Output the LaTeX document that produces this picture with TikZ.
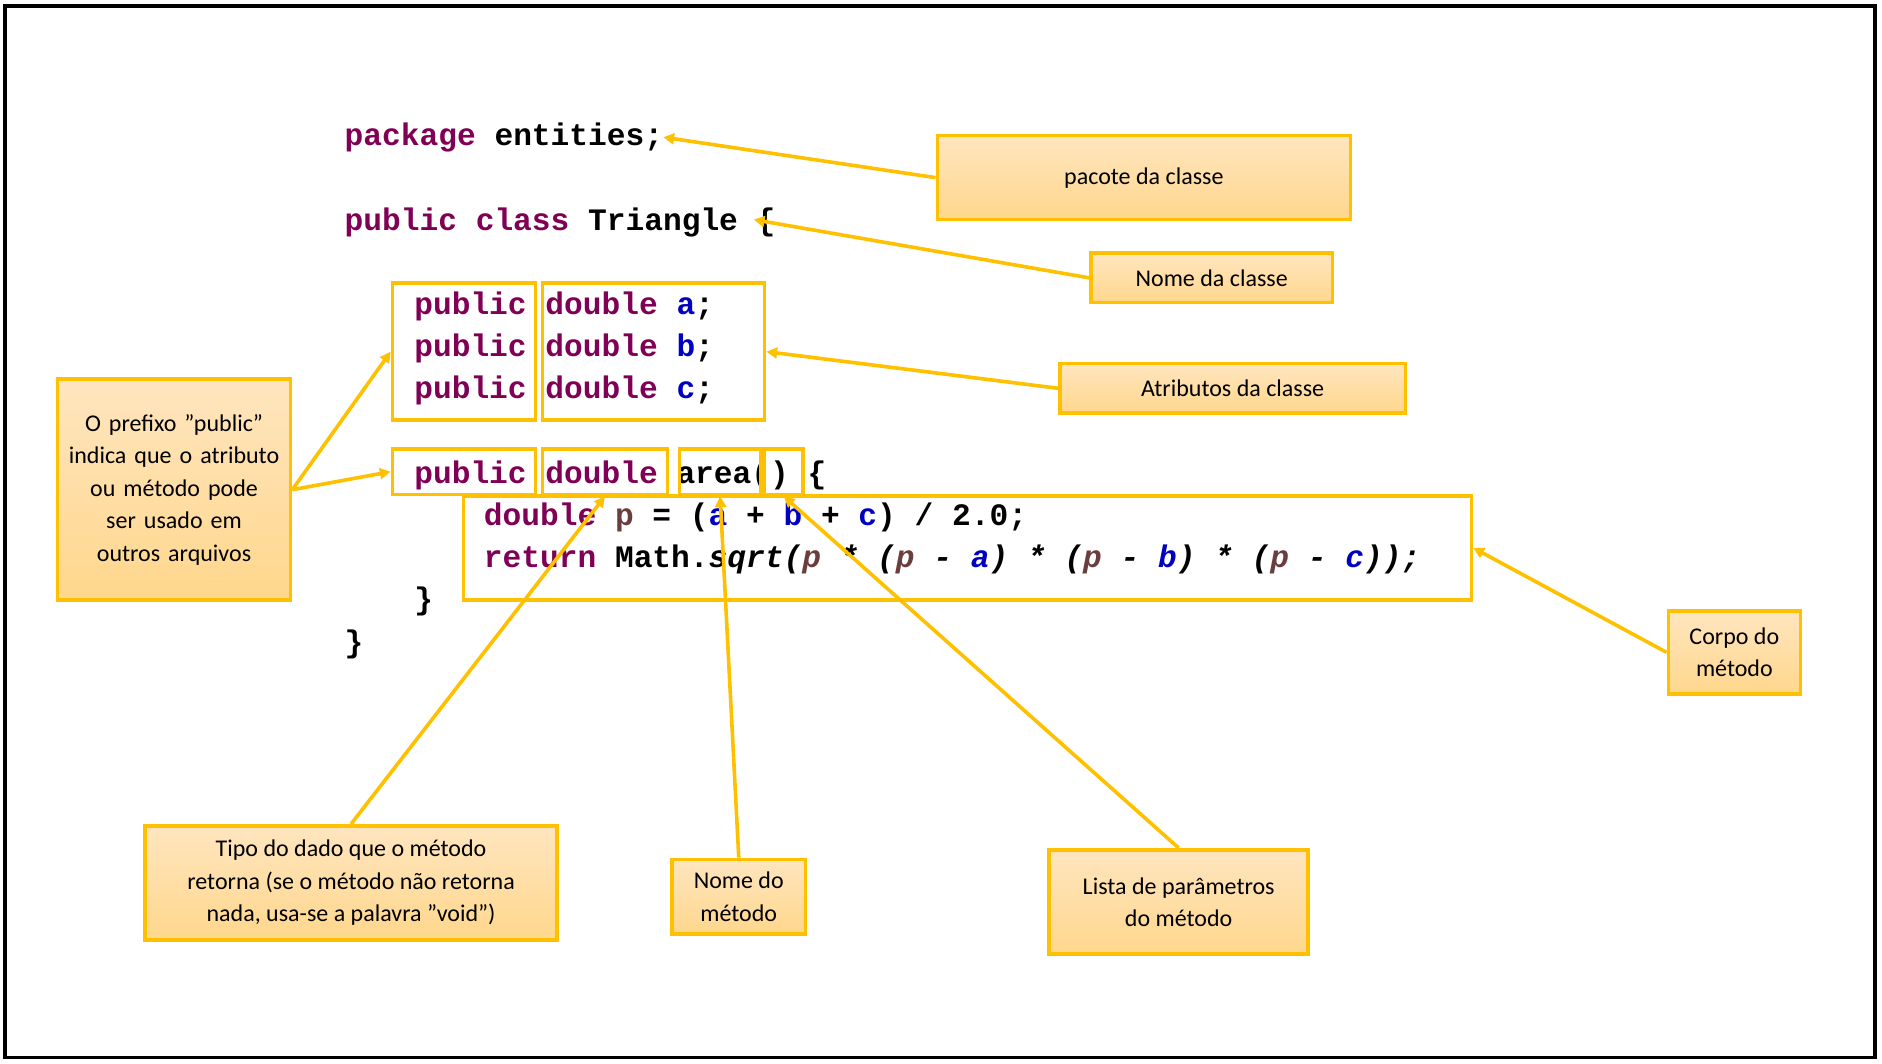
\documentclass[tikz,border=0pt]{standalone}
\usepackage{fontspec}
\setmainfont{Carlito}
\newfontfamily\codefont{Liberation Mono}[BoldFont={Liberation Mono Bold}]
\usetikzlibrary{arrows.meta}
\definecolor{kw}{HTML}{7F0055}
\definecolor{fld}{HTML}{0000C0}
\definecolor{loc}{HTML}{6A3E3E}
\definecolor{yel}{HTML}{FFC000}
\newcommand{\K}[1]{\textcolor{kw}{#1}}
\newcommand{\F}[1]{\textcolor{fld}{#1}}
\newcommand{\Lc}[1]{\textcolor{loc}{#1}}
\tikzset{
  code/.style={anchor=base west,inner sep=0pt,font=\codefont\bfseries\fontsize{26}{30}\selectfont},
  hl/.style={draw=yel,line width=3pt,inner sep=0pt},
  callout/.style={draw=yel,line width=3pt,top color=yellow!20!orange!25!white,bottom color=yellow!30!orange!45!white,font=\fontsize{20}{27}\selectfont,align=center,inner sep=2pt},
  arr/.style={draw=yel,line width=3pt,-{Triangle[length=9pt,width=9pt]}}
}
\begin{document}
\begin{tikzpicture}[x=1pt,y=-1pt]
\draw[line width=3pt] (4,5) rectangle (1562,881);
\useasboundingbox (0,0) rectangle (1568,886);
% code
\node[code] (pkg) at (287,121) {\K{package} entities;};
\node[code] (cls) at (287,192) {\K{public class} Triangle \{};
\coordinate (brace) at (628,183);
\node[code] (l1) at (345,262) {\K{public} \K{double} \F{a};};
\node[code] (l2) at (345,297) {\K{public} \K{double} \F{b};};
\node[code] (l3) at (345,332) {\K{public} \K{double} \F{c};};
\node[code] (l4) at (345,403) {\K{public} \K{double} area() \{};
\node[code] (l5) at (403,438) {\K{double} \Lc{p} = (\F{a} + \F{b} + \F{c}) / 2.0;};
\node[code] (l6) at (403,473) {\K{return} Math.\textit{sqrt(\Lc{p} * (\Lc{p} - \F{a}) * (\Lc{p} - \F{b}) * (\Lc{p} - \F{c}));}};
\node[code] (l7) at (345,508) {\}};
\node[code] (l8) at (287,544) {\}};
% highlight boxes
\node[hl,minimum width=119,minimum height=114] (hpa) at (386.5,293) {};
\node[hl,minimum width=185,minimum height=114] (hda) at (544.5,293) {};
\node[hl,minimum width=119,minimum height=38] (hpm) at (386.5,393) {};
\node[hl,minimum width=104,minimum height=38] (hdm) at (504,393) {};
\node[hl,minimum width=68,minimum height=38] (har) at (600,393) {};
\node[hl,minimum width=32,minimum height=38] (hpr) at (653,393) {};
\node[hl,minimum width=840,minimum height=87] (hbody) at (806,456.5) {};
% callouts
\node[callout,minimum width=344,minimum height=70] (pac) at (953,148) {pacote da classe};
\node[callout,minimum width=201,minimum height=41] (ncl) at (1009.5,231.5) {Nome da classe};
\node[callout,minimum width=288,minimum height=41] (atr) at (1027,323.5) {Atributos da classe};
\node[callout,minimum width=194,minimum height=184,text width=180] (pre) at (145,408) {O prefixo "public" indica que o atributo ou método pode ser usado em outros arquivos};
\node[callout,minimum width=110,minimum height=69] (cor) at (1445,543.5) {Corpo do\\método};
\node[callout,minimum width=343,minimum height=95] (tip) at (292.5,735.5) {Tipo do dado que o método\\retorna (se o método não retorna\\nada, usa-se a palavra "void")};
\node[callout,minimum width=111,minimum height=62] (nme) at (615.5,747) {Nome do\\método};
\node[callout,minimum width=216,minimum height=87] (lis) at (982,751.5) {Lista de parâmetros\\do método};
% arrows
\draw[arr] (pac.west) -- (pkg.east);
\draw[arr] (ncl.west) -- (brace);
\draw[arr] (atr.west) -- (hda.east);
\draw[arr] (pre.east) -- (hpa.west);
\draw[arr] (pre.east) -- (hpm.west);
\draw[arr] (cor.west) -- (hbody.east);
\draw[arr] (tip.north) -- (hdm.south);
\draw[arr] (nme.north) -- (har.south);
\draw[arr] (lis.north) -- (hpr.south);
\end{tikzpicture}
\end{document}
